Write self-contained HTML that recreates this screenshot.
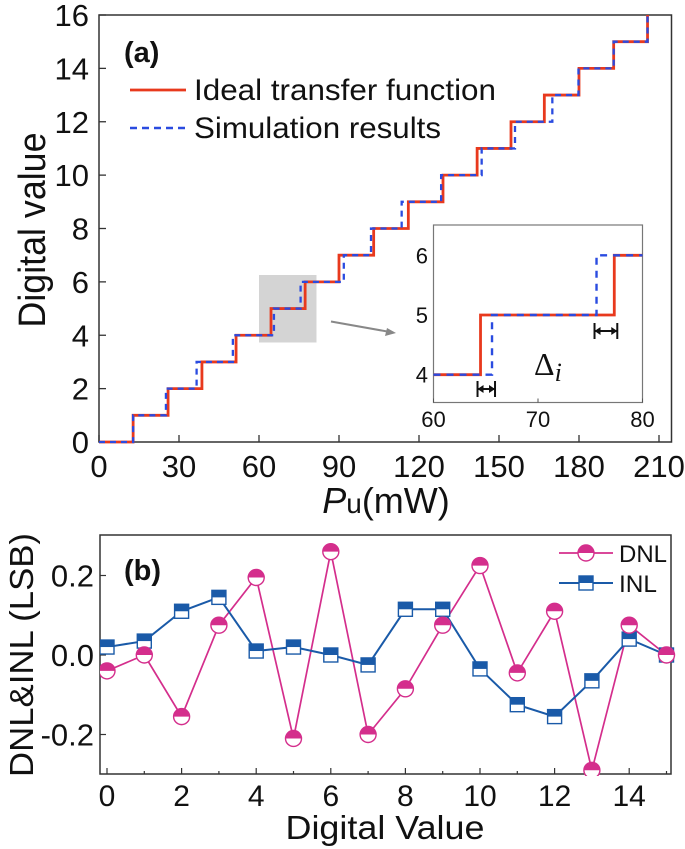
<!DOCTYPE html>
<html><head><meta charset="utf-8"><style>
html,body{margin:0;padding:0;background:#fff;}
svg{display:block;font-family:"Liberation Sans",sans-serif;}
</style></head><body>
<svg id="fig" width="685" height="849" viewBox="0 0 685 849" xmlns="http://www.w3.org/2000/svg">
<g id="topPanel"></g>
<g id="botPanel"></g>
</svg>
<script>
// ---- Panel (a) data ----
const idealSteps = [12.8, 25.9, 38.6, 51.4, 64.5, 77.3, 90, 103, 116, 129, 141.8, 154.5, 167, 180, 193, 205.7];
const simSteps   = [12.8, 25.1, 36.6, 50.2, 65.6, 75.6, 91.8, 102, 113.5, 128.3, 143.5, 156, 170, 179.8, 193, 205.7];
const xTicksA = [0, 30, 60, 90, 120, 150, 180, 210];
const yTicksA = [0, 2, 4, 6, 8, 10, 12, 14, 16];
const insetXTicks = [60, 70, 80];
const insetYTicks = [4, 5, 6];
// ---- Panel (b) data ----
const codes = [0,1,2,3,4,5,6,7,8,9,10,11,12,13,14,15];
const dnl = [-0.04, 0.0, -0.155, 0.075, 0.195, -0.21, 0.26, -0.20, -0.085, 0.075, 0.225, -0.045, 0.11, -0.29, 0.075, 0.0];
const inl = [0.02, 0.035, 0.11, 0.145, 0.01, 0.02, 0.0, -0.025, 0.115, 0.115, -0.035, -0.125, -0.155, -0.065, 0.04, 0.0];
const xTicksB = [0, 2, 4, 6, 8, 10, 12, 14];
const yTicksB = [-0.2, 0.0, 0.2];

const NS = "http://www.w3.org/2000/svg";
function mk(parent, tag, attrs, text){
  const el = document.createElementNS(NS, tag);
  for (const k in attrs) el.setAttribute(k, attrs[k]);
  if (text !== undefined) el.textContent = text;
  parent.appendChild(el);
  return el;
}
const gTop = document.getElementById('topPanel');
const gBot = document.getElementById('botPanel');

// Panel (a) axes
const AX = {l:99, r:671.5, t:15, b:442};
const ax = v => 99 + v/30*80;
const ay = v => 442 - v*26.6875;
let e;
e = mk(gTop,'rect',{x:AX.l,y:AX.t,width:AX.r-AX.l,height:AX.b-AX.t,fill:'none',stroke:'#333','stroke-width':1.5});
 
xTicksA.forEach(t=>{
  mk(gTop,'line',{x1:ax(t),x2:ax(t),y1:AX.b,y2:AX.b-7,stroke:'#333','stroke-width':1.3});
  e = mk(gTop,'text',{x:ax(t),y:477,'text-anchor':'middle','font-size':31,fill:'#111'},t);
   
});
yTicksA.forEach(t=>{
  mk(gTop,'line',{x1:AX.l,x2:AX.l+7,y1:ay(t),y2:ay(t),stroke:'#333','stroke-width':1.3});
  e = mk(gTop,'text',{x:89,y:ay(t)+11,'text-anchor':'end','font-size':31,fill:'#111'},t);
   
});
e = mk(gTop,'text',{x:0,y:0,transform:'translate(45,230) rotate(-90)','text-anchor':'middle','font-size':38,textLength:195,lengthAdjust:'spacingAndGlyphs',fill:'#111'},'Digital value');
 
e = mk(gTop,'text',{x:386,y:513,'text-anchor':'middle','font-size':36,fill:'#111'});
 
mk(e,'tspan',{'font-style':'italic'},'P');
mk(e,'tspan',{'font-size':28},'u');
mk(e,'tspan',{},'(mW)');

function stepPath(steps, fx, fy, x0, x1, y0){
  let d = `M${fx(x0)},${fy(y0)}`;
  steps.forEach((s,i)=>{
    const v = y0+i;
    if (s < x0 || s > x1) return;
    d += ` L${fx(s)},${fy(v)} L${fx(s)},${fy(v+1)}`;
  });
  return d;
}
e = mk(gTop,'rect',{x:259,y:275,width:57.5,height:67.5,fill:'#d4d4d4'});
 
e = mk(gTop,'path',{d:stepPath(idealSteps,ax,ay,0,210,0),fill:'none',stroke:'#e8391d','stroke-width':2.8});
 
e = mk(gTop,'path',{d:stepPath(simSteps,ax,ay,0,210,0),fill:'none',stroke:'#2a4be0','stroke-width':2.3,'stroke-dasharray':'6,5'});
 
e = mk(gTop,'line',{x1:331,y1:321.5,x2:390,y2:332,stroke:'#888','stroke-width':2});
 
mk(gTop,'path',{d:'M396,333 L385,336 L387,328 Z',fill:'#888'});
e = mk(gTop,'text',{x:124,y:62,'font-size':29,'font-weight':'bold',fill:'#111'},'(a)');
 
mk(gTop,'line',{x1:130,x2:186,y1:90,y2:90,stroke:'#e8391d','stroke-width':2.8});
e = mk(gTop,'text',{x:194,y:100,'font-size':30,textLength:302,lengthAdjust:'spacingAndGlyphs',fill:'#111'},'Ideal transfer function');
 
mk(gTop,'line',{x1:130,x2:186,y1:128,y2:128,stroke:'#2a4be0','stroke-width':2.5,'stroke-dasharray':'7,5'});
e = mk(gTop,'text',{x:194,y:138,'font-size':30,textLength:247,lengthAdjust:'spacingAndGlyphs',fill:'#111'},'Simulation results');
 

// inset
const IN = {l:433.5, r:642.5, t:225, b:402.5};
const ix = v => IN.l + (v-60)/20*(IN.r-IN.l);
const iy = v => 315 - (v-5)*59.7;
e = mk(gTop,'rect',{x:IN.l,y:IN.t,width:IN.r-IN.l,height:IN.b-IN.t,fill:'#fff',stroke:'#777','stroke-width':1.2});
 
insetXTicks.forEach(t=>{
  mk(gTop,'line',{x1:ix(t),x2:ix(t),y1:IN.b,y2:IN.b-4,stroke:'#555'});
  e = mk(gTop,'text',{x:ix(t),y:427,'text-anchor':'middle','font-size':22,fill:'#111'},t);
   
});
insetYTicks.forEach(t=>{
  e = mk(gTop,'text',{x:428,y:iy(t)+8,'text-anchor':'end','font-size':22,fill:'#111'},t);
   
});
e = mk(gTop,'path',{d:stepPath(idealSteps.slice(4,6),ix,iy,60,80,4)+` L${ix(80)},${iy(6)}`,fill:'none',stroke:'#e8391d','stroke-width':2.8});
 
e = mk(gTop,'path',{d:stepPath(simSteps.slice(4,6),ix,iy,60,80,4)+` L${ix(80)},${iy(6)}`,fill:'none',stroke:'#2a4be0','stroke-width':2.4,'stroke-dasharray':'7,6'});
 
function dimArrow(x1,x2,y,name){
  const g = mk(gTop,'g',{stroke:'#111','stroke-width':2,fill:'#111'});
   
  mk(g,'line',{x1:x1,x2:x1,y1:y-8,y2:y+8});
  mk(g,'line',{x1:x2,x2:x2,y1:y-8,y2:y+8});
  mk(g,'line',{x1:x1,x2:x2,y1:y,y2:y});
  mk(g,'path',{d:`M${x1},${y} l6,-4 l0,8 Z M${x2},${y} l-6,-4 l0,8 Z`,stroke:'none'});
}
dimArrow(ix(idealSteps[4])-3, ix(simSteps[4])+3, 389, 'delta-arrow-lower');
dimArrow(ix(simSteps[5])-2, ix(idealSteps[5])+3, 331, 'delta-arrow-upper');
e = mk(gTop,'text',{x:534,y:375,'font-size':32,'font-family':'"Liberation Serif",serif',fill:'#111'});
 
mk(e,'tspan',{},'Δ');
mk(e,'tspan',{'font-style':'italic','font-size':26,dy:6},'i');

// Panel (b)
const BX = {l:100, r:671, t:535, b:774};
const bx = v => 107 + v*37.3;
const by = v => 655 - v*397.5;
e = mk(gBot,'rect',{x:BX.l,y:BX.t,width:BX.r-BX.l,height:BX.b-BX.t,fill:'none',stroke:'#333','stroke-width':1.5});
 
codes.forEach(t=>{
  mk(gBot,'line',{x1:bx(t),x2:bx(t),y1:BX.b,y2:BX.b-(t%2?3:6),stroke:'#333','stroke-width':1.2});
});
xTicksB.forEach(t=>{
  e = mk(gBot,'text',{x:bx(t),y:806,'text-anchor':'middle','font-size':30,fill:'#111'},t);
   
});
yTicksB.forEach(t=>{
  mk(gBot,'line',{x1:BX.l,x2:BX.l+6,y1:by(t),y2:by(t),stroke:'#333','stroke-width':1.2});
  e = mk(gBot,'text',{x:94,y:by(t)+11,'text-anchor':'end','font-size':31,fill:'#111'},t.toFixed(1));
   
});
e = mk(gBot,'text',{x:0,y:0,transform:'translate(33,655) rotate(-90)','text-anchor':'middle','font-size':33,textLength:244,lengthAdjust:'spacingAndGlyphs',fill:'#111'},'DNL&INL (LSB)');
 
e = mk(gBot,'text',{x:385,y:839,'text-anchor':'middle','font-size':33,textLength:199,lengthAdjust:'spacingAndGlyphs',fill:'#111'},'Digital Value');
 
e = mk(gBot,'text',{x:124,y:580,'font-size':29,'font-weight':'bold',fill:'#111'},'(b)');
 

const MAG = '#d42e8c', BLU = '#1a5aa8';
const clip = mk(gBot,'clipPath',{id:'bclip'});
mk(clip,'rect',{x:BX.l,y:BX.t-2,width:BX.r-BX.l+8,height:BX.b-BX.t+4});
const series = mk(gBot,'g',{'clip-path':'url(#bclip)'});
e = mk(series,'polyline',{points:codes.map((c,i)=>bx(c)+','+by(dnl[i])).join(' '),fill:'none',stroke:MAG,'stroke-width':1.7});
 
e = mk(series,'polyline',{points:codes.map((c,i)=>bx(c)+','+by(inl[i])).join(' '),fill:'none',stroke:BLU,'stroke-width':2});
 
function circleMarker(p,x,y){
  const g = mk(p,'g',{});
  mk(g,'circle',{cx:x,cy:y,r:8,fill:'#fff',stroke:MAG,'stroke-width':1.4});
  mk(g,'path',{d:`M${x-8},${y} A8,8 0 0 1 ${x+8},${y} Z`,fill:MAG});
  return g;
}
function squareMarker(p,x,y){
  const g = mk(p,'g',{});
  mk(g,'rect',{x:x-7,y:y-7,width:14,height:14,fill:'#fff',stroke:BLU,'stroke-width':1.4});
  mk(g,'rect',{x:x-7,y:y-7,width:14,height:7,fill:BLU});
  return g;
}
codes.forEach((c,i)=>{
  const g = squareMarker(series,bx(c),by(inl[i]));
  
  
});
codes.forEach((c,i)=>{
  const g = circleMarker(series,bx(c),by(dnl[i]));
  
  
});
mk(gBot,'line',{x1:559,x2:613,y1:553,y2:553,stroke:MAG,'stroke-width':1.7});
circleMarker(gBot,586,553);
e = mk(gBot,'text',{x:619,y:562,'font-size':24,textLength:48,lengthAdjust:'spacingAndGlyphs',fill:'#111'},'DNL');
 
mk(gBot,'line',{x1:559,x2:613,y1:583,y2:583,stroke:BLU,'stroke-width':2});
squareMarker(gBot,586,583);
e = mk(gBot,'text',{x:619,y:592,'font-size':24,textLength:38,lengthAdjust:'spacingAndGlyphs',fill:'#111'},'INL');
 
</script>
</body></html>
